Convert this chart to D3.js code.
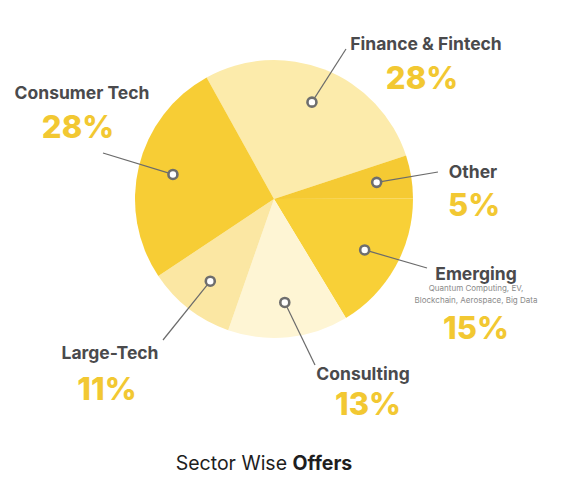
<!DOCTYPE html>
<html>
<head>
<meta charset="utf-8">
<script src="https://cdn.jsdelivr.net/npm/d3@7"></script>
<style>
  body { margin: 0; background: #fff; }
  text { font-family: Inter, "Noto Sans", sans-serif; }
</style>
</head>
<body>
<div id="chart"></div>
<script>
/* DATA */
const sectors = ["Finance & Fintech", "Other", "Emerging", "Consulting", "Large-Tech", "Consumer Tech"];
// arc sizes as drawn in the picture (they don't follow the rounded labels exactly)
const shares = [28, 5, 16.4, 14, 10.3, 26.3];
const percentLabels = ["28%", "5%", "15%", "13%", "11%", "28%"];
const emergingNotes = ["Quantum Computing, EV,", "Blockchain, Aerospace, Big Data"];
const sliceColors = ["#fcebab", "#f5ca33", "#f8d037", "#fef5d4", "#fbe7a3", "#f7cd35"];

/* CONSTANTS */
const width = 584,
  height = 491,
  cx = 274,
  cy = 199,
  radius = 139;

// where each callout sits: end of the leader line, name, percentage
const callouts = {
  "Finance & Fintech": { end: [346, 49], name: [426, 43], pct: [422, 77] },
  "Other": { end: [438, 172], name: [473, 171], pct: [474, 204] },
  "Emerging": { end: [427, 268], name: [476, 273], pct: [476, 327], notes: [476, 288] },
  "Consulting": { end: [315, 365], name: [363, 373], pct: [368, 403] },
  "Large-Tech": { end: [163, 340], name: [110, 352], pct: [107, 388] },
  "Consumer Tech": { end: [103, 153], name: [82, 92], pct: [78, 126] }
};

const data = sectors.map((s, i) => ({ sector: s, share: shares[i], label: percentLabels[i], color: sliceColors[i] }));

const svg = d3.select("#chart")
  .append("svg")
  .attr("width", width)
  .attr("height", height);

const pie = d3.pie()
  .sort(null)
  .value(d => d.share)
  .startAngle(-29 * Math.PI / 180)
  .endAngle(331 * Math.PI / 180);

const arc = d3.arc().innerRadius(0).outerRadius(radius);
const dotArc = d3.arc().innerRadius(104).outerRadius(104);

const arcs = pie(data);

const g = svg.append("g").attr("transform", `translate(${cx},${cy})`);

g.selectAll("path.slice")
  .data(arcs)
  .join("path")
  .attr("class", "slice")
  .attr("d", arc)
  .attr("fill", d => d.data.color);

// leader lines
g.selectAll("line.leader")
  .data(arcs)
  .join("line")
  .attr("class", "leader")
  .attr("x1", d => dotArc.centroid(d)[0])
  .attr("y1", d => dotArc.centroid(d)[1])
  .attr("x2", d => callouts[d.data.sector].end[0] - cx)
  .attr("y2", d => callouts[d.data.sector].end[1] - cy)
  .attr("stroke", "#6b6b6b")
  .attr("stroke-width", 1.2);

// dots
g.selectAll("circle.dot")
  .data(arcs)
  .join("circle")
  .attr("class", "dot")
  .attr("cx", d => dotArc.centroid(d)[0])
  .attr("cy", d => dotArc.centroid(d)[1])
  .attr("r", 4.5)
  .attr("fill", "#fff")
  .attr("stroke", "#6e6e6e")
  .attr("stroke-width", 2.6);

// names
svg.selectAll("text.name")
  .data(data)
  .join("text")
  .attr("class", "name")
  .attr("x", d => callouts[d.sector].name[0])
  .attr("y", d => callouts[d.sector].name[1])
  .attr("text-anchor", "middle")
  .attr("dominant-baseline", "central")
  .attr("font-size", 17.5)
  .attr("font-weight", 700)
  .attr("fill", "#4a4a4c")
  .text(d => d.sector);

// percentages
svg.selectAll("text.pct")
  .data(data)
  .join("text")
  .attr("class", "pct")
  .attr("x", d => callouts[d.sector].pct[0])
  .attr("y", d => callouts[d.sector].pct[1])
  .attr("text-anchor", "middle")
  .attr("dominant-baseline", "central")
  .attr("font-size", 31)
  .attr("font-weight", 800)
  .attr("fill", "#f2c832")
  .text(d => d.label);

// small notes under Emerging
const notePos = callouts["Emerging"].notes;
svg.selectAll("text.note")
  .data(emergingNotes)
  .join("text")
  .attr("class", "note")
  .attr("x", notePos[0])
  .attr("y", (d, i) => notePos[1] + i * 12)
  .attr("text-anchor", "middle")
  .attr("dominant-baseline", "central")
  .attr("font-size", 8)
  .attr("fill", "#8a8a8a")
  .text(d => d);

// title
const title = svg.append("text")
  .attr("x", 264)
  .attr("y", 463)
  .attr("text-anchor", "middle")
  .attr("dominant-baseline", "central")
  .attr("font-size", 19.5)
  .attr("fill", "#1e1e1e");
title.append("tspan").text("Sector Wise ");
title.append("tspan").attr("font-weight", 700).text("Offers");
</script>
</body>
</html>
